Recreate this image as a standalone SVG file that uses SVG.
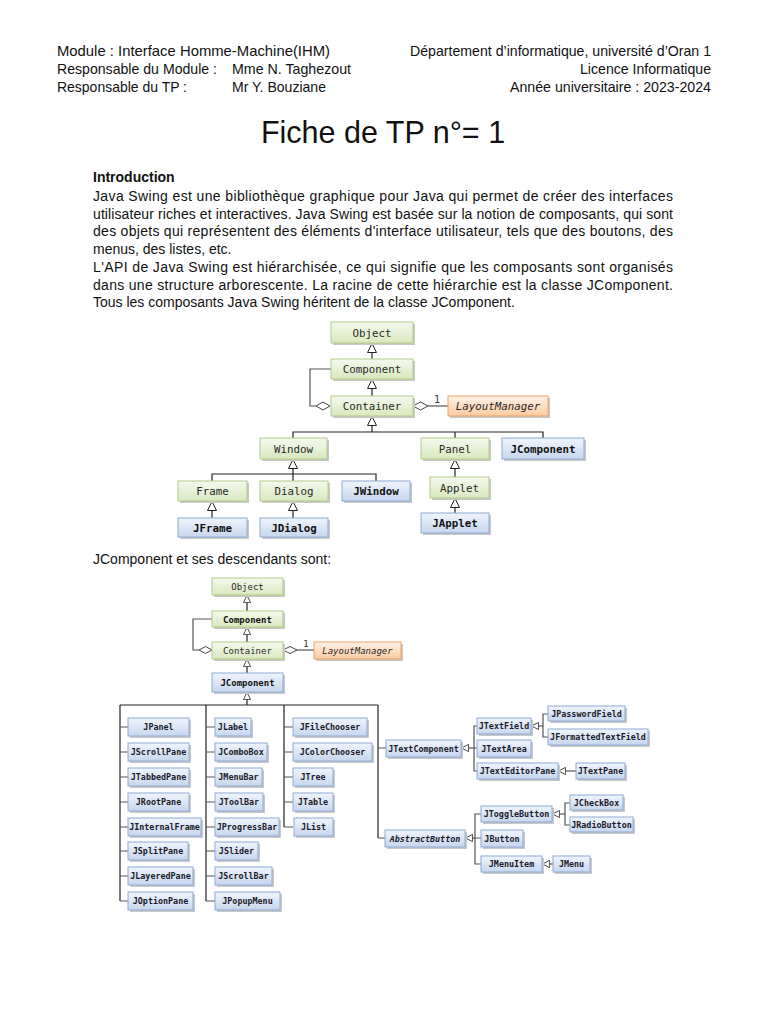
<svg xmlns="http://www.w3.org/2000/svg" width="768" height="1024" viewBox="0 0 768 1024">
<defs>
<linearGradient id="gG" x1="0" y1="0" x2="0" y2="1"><stop offset="0" stop-color="#f5f9ee"/><stop offset="1" stop-color="#d8e8bf"/></linearGradient>
<linearGradient id="gB" x1="0" y1="0" x2="0" y2="1"><stop offset="0" stop-color="#f0f5fc"/><stop offset="1" stop-color="#c6d6ee"/></linearGradient>
<linearGradient id="gO" x1="0" y1="0" x2="0" y2="1"><stop offset="0" stop-color="#fff2e6"/><stop offset="1" stop-color="#fbcaa0"/></linearGradient>
<marker id="tri" viewBox="0 0 10 10" refX="10" refY="5" markerWidth="10" markerHeight="10" markerUnits="userSpaceOnUse" orient="auto"><path d="M0.5,0.5 L9.5,5 L0.5,9.5 z" fill="#fff" stroke="#222" stroke-width="1"/></marker>
<marker id="tri2" viewBox="0 0 10 10" refX="10" refY="5" markerWidth="8" markerHeight="8" markerUnits="userSpaceOnUse" orient="auto"><path d="M0.5,0.5 L9.5,5 L0.5,9.5 z" fill="#fff" stroke="#333" stroke-width="1.1"/></marker>
</defs>
<style>
.t{font-family:"Liberation Sans",Arial,sans-serif;fill:#111}
.h{font-size:14.5px}
.b{font-size:14px}
.g{fill:url(#gG);stroke:#b2cb86;stroke-width:1}
.bl{fill:url(#gB);stroke:#8eaad6;stroke-width:1}
.o{fill:url(#gO);stroke:#f0a064;stroke-width:1}
.sh{fill:#c8c8c8}
.n{font-family:"DejaVu Sans Mono",monospace;fill:#2a2a2a;text-anchor:middle}
.n1{font-size:10.8px}
.n2{font-size:9px}
.n3{font-size:8.4px;font-weight:bold;fill:#1a1a2a}
.bd{font-weight:bold;fill:#111}
.it{font-style:italic}
.c1{fill:none;stroke:#222;stroke-width:1.2}
.c2{fill:none;stroke:#555;stroke-width:1.2}
.dm{fill:#fff;stroke:#444;stroke-width:1}
</style>

<!-- header -->
<g id="header">
<text class="t h" x="57" y="56" textLength="273" lengthAdjust="spacingAndGlyphs">Module : Interface Homme-Machine(IHM)</text>
<text class="t h" x="57" y="74" textLength="160" lengthAdjust="spacingAndGlyphs">Responsable du Module :</text>
<text class="t h" x="232" y="74" textLength="119" lengthAdjust="spacingAndGlyphs">Mme N. Taghezout</text>
<text class="t h" x="57" y="92" textLength="130" lengthAdjust="spacingAndGlyphs">Responsable du TP :</text>
<text class="t h" x="232" y="92" textLength="94" lengthAdjust="spacingAndGlyphs">Mr Y. Bouziane</text>
<text class="t h" x="410" y="56" textLength="301" lengthAdjust="spacingAndGlyphs">Département d’informatique, université d’Oran 1</text>
<text class="t h" x="580" y="74" textLength="131" lengthAdjust="spacingAndGlyphs">Licence Informatique</text>
<text class="t h" x="510" y="92" textLength="201" lengthAdjust="spacingAndGlyphs">Année universitaire : 2023-2024</text>
<text class="t" x="383" y="143" font-size="30.5" text-anchor="middle">Fiche de TP n°= 1</text>
</g>

<g id="intro">
<text class="t b" x="93" y="182" font-weight="bold">Introduction</text>
<text class="t b" x="93" y="201" textLength="580" lengthAdjust="spacing">Java Swing est une bibliothèque graphique pour Java qui permet de créer des interfaces</text>
<text class="t b" x="93" y="219" textLength="580" lengthAdjust="spacing">utilisateur riches et interactives. Java Swing est basée sur la notion de composants, qui sont</text>
<text class="t b" x="93" y="236" textLength="580" lengthAdjust="spacing">des objets qui représentent des éléments d'interface utilisateur, tels que des boutons, des</text>
<text class="t b" x="93" y="254">menus, des listes, etc.</text>
<text class="t b" x="93" y="272" textLength="580" lengthAdjust="spacing">L'API de Java Swing est hiérarchisée, ce qui signifie que les composants sont organisés</text>
<text class="t b" x="93" y="290" textLength="580" lengthAdjust="spacing">dans une structure arborescente. La racine de cette hiérarchie est la classe JComponent.</text>
<text class="t b" x="93" y="307">Tous les composants Java Swing héritent de la classe JComponent.</text>
<text class="t b" x="93" y="564">JComponent et ses descendants sont:</text>
</g>

<!-- ===== Diagram 1 connectors ===== -->
<g id="connectors1">
<line class="c1" x1="372" y1="359" x2="372" y2="343" marker-end="url(#tri)"/>
<line class="c1" x1="372" y1="396" x2="372" y2="379" marker-end="url(#tri)"/>
<path class="c1" d="M293,438 V432 H543 V438 M455,432 V438"/>
<line class="c1" x1="372" y1="432" x2="372" y2="416" marker-end="url(#tri)"/>
<path class="c1" d="M212,481 V474 H376 V481"/>
<line class="c1" x1="293" y1="481" x2="293" y2="459" marker-end="url(#tri)"/>
<line class="c1" x1="212" y1="518" x2="212" y2="501" marker-end="url(#tri)"/>
<line class="c1" x1="293" y1="518" x2="293" y2="501" marker-end="url(#tri)"/>
<line class="c1" x1="455" y1="477" x2="455" y2="459" marker-end="url(#tri)"/>
<line class="c1" x1="455" y1="513" x2="455" y2="498" marker-end="url(#tri)"/>
<path class="c2" d="M331,369 H310 V406 H316"/>
<polygon class="dm" points="316,406 323,402 330,406 323,410"/>
<line class="c2" x1="428" y1="406" x2="448" y2="406"/>
<polygon class="dm" points="413,406 420.5,402 428,406 420.5,410"/>
<text x="437" y="403" font-family="DejaVu Sans Mono,monospace" font-size="10" fill="#333" text-anchor="middle">1</text>
</g>

<!-- ===== Diagram 1 nodes ===== -->
<g id="d1-object"><rect class="sh" x="333" y="324" width="82" height="21"/><rect class="g" x="331" y="322" width="82" height="21"/><text class="n n1" x="372" y="336.5">Object</text></g>
<g id="d1-component"><rect class="sh" x="333" y="361" width="82" height="20"/><rect class="g" x="331" y="359" width="82" height="20"/><text class="n n1" x="372" y="373">Component</text></g>
<g id="d1-container"><rect class="sh" x="333" y="398" width="82" height="20"/><rect class="g" x="331" y="396" width="82" height="20"/><text class="n n1" x="372" y="410">Container</text></g>
<g id="d1-layoutmanager"><rect class="sh" x="450" y="398" width="100" height="20"/><rect class="o" x="448" y="396" width="100" height="20"/><text class="n n1 it" x="498" y="410">LayoutManager</text></g>
<g id="d1-window"><rect class="sh" x="262" y="440" width="67" height="21"/><rect class="g" x="260" y="438" width="67" height="21"/><text class="n n1" x="293.5" y="452.5">Window</text></g>
<g id="d1-panel"><rect class="sh" x="423" y="440" width="68" height="21"/><rect class="g" x="421" y="438" width="68" height="21"/><text class="n n1" x="455" y="452.5">Panel</text></g>
<g id="d1-jcomponent"><rect class="sh" x="504" y="440" width="82" height="21"/><rect class="bl" x="502" y="438" width="82" height="21"/><text class="n n1 bd" x="543" y="452.5">JComponent</text></g>
<g id="d1-frame"><rect class="sh" x="180" y="483" width="69" height="20"/><rect class="g" x="178" y="481" width="69" height="20"/><text class="n n1" x="212.5" y="495">Frame</text></g>
<g id="d1-dialog"><rect class="sh" x="262" y="483" width="68" height="20"/><rect class="g" x="260" y="481" width="68" height="20"/><text class="n n1" x="294" y="495">Dialog</text></g>
<g id="d1-jwindow"><rect class="sh" x="344" y="483" width="68" height="20"/><rect class="bl" x="342" y="481" width="68" height="20"/><text class="n n1 bd" x="376" y="495">JWindow</text></g>
<g id="d1-applet"><rect class="sh" x="432" y="479" width="59" height="21"/><rect class="g" x="430" y="477" width="59" height="21"/><text class="n n1" x="459.5" y="491.5">Applet</text></g>
<g id="d1-jframe"><rect class="sh" x="180" y="520" width="69" height="19"/><rect class="bl" x="178" y="518" width="69" height="19"/><text class="n n1 bd" x="212.5" y="531.5">JFrame</text></g>
<g id="d1-jdialog"><rect class="sh" x="262" y="520" width="68" height="19"/><rect class="bl" x="260" y="518" width="68" height="19"/><text class="n n1 bd" x="294" y="531.5">JDialog</text></g>
<g id="d1-japplet"><rect class="sh" x="423" y="515" width="68" height="20"/><rect class="bl" x="421" y="513" width="68" height="20"/><text class="n n1 bd" x="455" y="527">JApplet</text></g>

<!-- ===== Diagram 2 connectors ===== -->
<g id="connectors2">
<line class="c1" x1="247" y1="611" x2="247" y2="595" marker-end="url(#tri2)"/>
<line class="c1" x1="247" y1="642" x2="247" y2="627" marker-end="url(#tri2)"/>
<line class="c1" x1="247" y1="673" x2="247" y2="659" marker-end="url(#tri2)"/>
<path class="c2" d="M212,619 H193 V650 H199"/>
<polygon class="dm" points="199,650 205.5,646.5 212,650 205.5,653.5"/>
<line class="c2" x1="297" y1="650" x2="314" y2="650"/>
<polygon class="dm" points="283,650 290,646.5 297,650 290,653.5"/>
<text x="306" y="647" font-family="DejaVu Sans Mono,monospace" font-size="9" fill="#333" text-anchor="middle">1</text>
<line class="c1" x1="247" y1="705" x2="247" y2="692" marker-end="url(#tri2)"/>
<path class="c1" d="M120,705 H378 M120,705 V901 M206,705 V901 M284,705 V827 M378,705 V838"/>
<path class="c2" d="M120,727 H128 M120,752 H128 M120,777 H128 M120,802 H128 M120,827 H128 M120,851 H128 M120,876 H128 M120,901 H128"/>
<path class="c2" d="M206,727 H215 M206,752 H215 M206,777 H215 M206,802 H215 M206,827 H215 M206,851 H215 M206,876 H215 M206,901 H215"/>
<path class="c2" d="M284,727 H293 M284,752 H293 M284,777 H293 M284,802 H293 M284,827 H293"/>
<path class="c2" d="M378,748 H386 M378,838 H385"/>
<line class="c2" x1="474" y1="748" x2="461" y2="748" marker-end="url(#tri2)"/>
<path class="c2" d="M477,726 H474 V771 H477 M474,748 H477"/>
<line class="c2" x1="543" y1="726" x2="531" y2="726" marker-end="url(#tri2)"/>
<path class="c2" d="M548,714 H543 V737 H548"/>
<line class="c2" x1="576" y1="771" x2="558" y2="771" marker-end="url(#tri2)"/>
<line class="c2" x1="475" y1="838" x2="465" y2="838" marker-end="url(#tri2)"/>
<path class="c2" d="M481,814 H475 V864 H481 M475,838 H481"/>
<line class="c2" x1="565" y1="814" x2="552" y2="814" marker-end="url(#tri2)"/>
<path class="c2" d="M570,803 H565 V825 H570"/>
<line class="c2" x1="553" y1="864" x2="542" y2="864" marker-end="url(#tri2)"/>
</g>

<!-- ===== Diagram 2 nodes ===== -->
<g id="d2-object"><rect class="sh" x="214" y="580" width="71" height="17"/><rect class="g" x="212" y="578" width="71" height="17"/><text class="n n2" x="247.5" y="589.5">Object</text></g>
<g id="d2-component"><rect class="sh" x="214" y="613" width="71" height="16"/><rect class="g" x="212" y="611" width="71" height="16"/><text class="n n2 bd" x="247.5" y="622.5">Component</text></g>
<g id="d2-container"><rect class="sh" x="214" y="644" width="71" height="17"/><rect class="g" x="212" y="642" width="71" height="17"/><text class="n n2" x="247.5" y="653.5">Container</text></g>
<g id="d2-layoutmanager"><rect class="sh" x="316" y="644" width="87" height="17"/><rect class="o" x="314" y="642" width="87" height="17"/><text class="n n2 it" x="357.5" y="653.5">LayoutManager</text></g>
<g id="d2-jcomponent"><rect class="sh" x="214" y="675" width="71" height="19"/><rect class="bl" x="212" y="673" width="71" height="19"/><text class="n n2 bd" x="247.5" y="685.5">JComponent</text></g>

<g id="d2-jpanel"><rect class="sh" x="130" y="720" width="61" height="18"/><rect class="bl" x="128" y="718" width="61" height="18"/><text class="n n3" x="158.5" y="730">JPanel</text></g>
<g id="d2-jscrollpane"><rect class="sh" x="130" y="745" width="61" height="18"/><rect class="bl" x="128" y="743" width="61" height="18"/><text class="n n3" x="158.5" y="755">JScrollPane</text></g>
<g id="d2-jtabbedpane"><rect class="sh" x="130" y="770" width="61" height="18"/><rect class="bl" x="128" y="768" width="61" height="18"/><text class="n n3" x="158.5" y="780">JTabbedPane</text></g>
<g id="d2-jrootpane"><rect class="sh" x="130" y="795" width="61" height="18"/><rect class="bl" x="128" y="793" width="61" height="18"/><text class="n n3" x="158.5" y="805">JRootPane</text></g>
<g id="d2-jinternalframe"><rect class="sh" x="130" y="820" width="73" height="18"/><rect class="bl" x="128" y="818" width="73" height="18"/><text class="n n3" x="164.5" y="830">JInternalFrame</text></g>
<g id="d2-jsplitpane"><rect class="sh" x="130" y="844" width="60" height="18"/><rect class="bl" x="128" y="842" width="60" height="18"/><text class="n n3" x="158" y="854">JSplitPane</text></g>
<g id="d2-jlayeredpane"><rect class="sh" x="130" y="869" width="65" height="18"/><rect class="bl" x="128" y="867" width="65" height="18"/><text class="n n3" x="160.5" y="879">JLayeredPane</text></g>
<g id="d2-joptionpane"><rect class="sh" x="130" y="894" width="65" height="18"/><rect class="bl" x="128" y="892" width="65" height="18"/><text class="n n3" x="160.5" y="904">JOptionPane</text></g>

<g id="d2-jlabel"><rect class="sh" x="217" y="720" width="36" height="18"/><rect class="bl" x="215" y="718" width="36" height="18"/><text class="n n3" x="233" y="730">JLabel</text></g>
<g id="d2-jcombobox"><rect class="sh" x="217" y="745" width="52" height="18"/><rect class="bl" x="215" y="743" width="52" height="18"/><text class="n n3" x="241" y="755">JComboBox</text></g>
<g id="d2-jmenubar"><rect class="sh" x="217" y="770" width="47" height="18"/><rect class="bl" x="215" y="768" width="47" height="18"/><text class="n n3" x="238.5" y="780">JMenuBar</text></g>
<g id="d2-jtoolbar"><rect class="sh" x="217" y="795" width="48" height="18"/><rect class="bl" x="215" y="793" width="48" height="18"/><text class="n n3" x="239" y="805">JToolBar</text></g>
<g id="d2-jprogressbar"><rect class="sh" x="217" y="820" width="64" height="18"/><rect class="bl" x="215" y="818" width="64" height="18"/><text class="n n3" x="247" y="830">JProgressBar</text></g>
<g id="d2-jslider"><rect class="sh" x="217" y="844" width="43" height="18"/><rect class="bl" x="215" y="842" width="43" height="18"/><text class="n n3" x="236.5" y="854">JSlider</text></g>
<g id="d2-jscrollbar"><rect class="sh" x="217" y="869" width="57" height="18"/><rect class="bl" x="215" y="867" width="57" height="18"/><text class="n n3" x="243.5" y="879">JScrollBar</text></g>
<g id="d2-jpopupmenu"><rect class="sh" x="217" y="894" width="65" height="18"/><rect class="bl" x="215" y="892" width="65" height="18"/><text class="n n3" x="247.5" y="904">JPopupMenu</text></g>

<g id="d2-jfilechooser"><rect class="sh" x="295" y="720" width="74" height="18"/><rect class="bl" x="293" y="718" width="74" height="18"/><text class="n n3" x="330" y="730">JFileChooser</text></g>
<g id="d2-jcolorchooser"><rect class="sh" x="295" y="745" width="79" height="18"/><rect class="bl" x="293" y="743" width="79" height="18"/><text class="n n3" x="332.5" y="755">JColorChooser</text></g>
<g id="d2-jtree"><rect class="sh" x="295" y="770" width="40" height="18"/><rect class="bl" x="293" y="768" width="40" height="18"/><text class="n n3" x="313" y="780">JTree</text></g>
<g id="d2-jtable"><rect class="sh" x="295" y="795" width="40" height="18"/><rect class="bl" x="293" y="793" width="40" height="18"/><text class="n n3" x="313" y="805">JTable</text></g>
<g id="d2-jlist"><rect class="sh" x="296" y="820" width="39" height="18"/><rect class="bl" x="294" y="818" width="39" height="18"/><text class="n n3" x="313.5" y="830">JList</text></g>

<g id="d2-jtextcomponent"><rect class="sh" x="388" y="742" width="75" height="17"/><rect class="bl" x="386" y="740" width="75" height="17"/><text class="n n3" x="423.5" y="751.5">JTextComponent</text></g>
<g id="d2-jtextfield"><rect class="sh" x="479" y="720" width="54" height="16"/><rect class="bl" x="477" y="718" width="54" height="16"/><text class="n n3" x="504" y="729">JTextField</text></g>
<g id="d2-jtextarea"><rect class="sh" x="479" y="742" width="54" height="17"/><rect class="bl" x="477" y="740" width="54" height="17"/><text class="n n3" x="504" y="751.5">JTextArea</text></g>
<g id="d2-jtexteditorpane"><rect class="sh" x="479" y="765" width="81" height="16"/><rect class="bl" x="477" y="763" width="81" height="16"/><text class="n n3" x="517.5" y="774">JTextEditorPane</text></g>
<g id="d2-jpasswordfield"><rect class="sh" x="550" y="708" width="77" height="15"/><rect class="bl" x="548" y="706" width="77" height="15"/><text class="n n3" x="586.5" y="716.5">JPasswordField</text></g>
<g id="d2-jformattedtextfield"><rect class="sh" x="550" y="731" width="100" height="16"/><rect class="bl" x="548" y="729" width="100" height="16"/><text class="n n3" x="598" y="740">JFormattedTextField</text></g>
<g id="d2-jtextpane"><rect class="sh" x="578" y="765" width="49" height="16"/><rect class="bl" x="576" y="763" width="49" height="16"/><text class="n n3" x="600.5" y="774">JTextPane</text></g>

<g id="d2-abstractbutton"><rect class="sh" x="387" y="832" width="80" height="17"/><rect class="bl" x="385" y="830" width="80" height="17"/><text class="n n3 it" x="425" y="841.5">AbstractButton</text></g>
<g id="d2-jtogglebutton"><rect class="sh" x="483" y="808" width="71" height="16"/><rect class="bl" x="481" y="806" width="71" height="16"/><text class="n n3" x="516.5" y="817">JToggleButton</text></g>
<g id="d2-jbutton"><rect class="sh" x="483" y="832" width="42" height="17"/><rect class="bl" x="481" y="830" width="42" height="17"/><text class="n n3" x="502" y="841.5">JButton</text></g>
<g id="d2-jmenuitem"><rect class="sh" x="483" y="858" width="61" height="16"/><rect class="bl" x="481" y="856" width="61" height="16"/><text class="n n3" x="511.5" y="867">JMenuItem</text></g>
<g id="d2-jcheckbox"><rect class="sh" x="572" y="797" width="53" height="15"/><rect class="bl" x="570" y="795" width="53" height="15"/><text class="n n3" x="596.5" y="805.5">JCheckBox</text></g>
<g id="d2-jradiobutton"><rect class="sh" x="572" y="819" width="63" height="15"/><rect class="bl" x="570" y="817" width="63" height="15"/><text class="n n3" x="601.5" y="827.5">JRadioButton</text></g>
<g id="d2-jmenu"><rect class="sh" x="555" y="858" width="37" height="16"/><rect class="bl" x="553" y="856" width="37" height="16"/><text class="n n3" x="571.5" y="867">JMenu</text></g>
</svg>
